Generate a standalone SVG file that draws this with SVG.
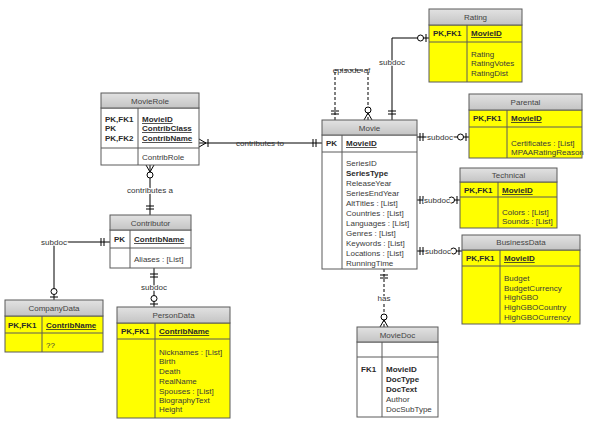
<svg xmlns="http://www.w3.org/2000/svg" width="595" height="422" viewBox="0 0 595 422">
<defs>
<linearGradient id="hg" x1="0" y1="0" x2="0" y2="1"><stop offset="0" stop-color="#e2e2e2"/><stop offset="1" stop-color="#c4c4c4"/></linearGradient>
<marker id="one" markerUnits="userSpaceOnUse" markerWidth="20" markerHeight="12" viewBox="-16 -6 20 12" refX="0" refY="0" orient="auto-start-reverse" overflow="visible"><path d="M-6,-4V4M-9,-4V4" stroke="#000" fill="none"/></marker>
<marker id="oneN" markerUnits="userSpaceOnUse" markerWidth="20" markerHeight="12" viewBox="-16 -6 20 12" refX="0" refY="0" orient="auto-start-reverse" overflow="visible"><path d="M-3,-4V4M-6,-4V4" stroke="#000" fill="none"/></marker>
<marker id="zeroone" markerUnits="userSpaceOnUse" markerWidth="20" markerHeight="12" viewBox="-16 -6 20 12" refX="0" refY="0" orient="auto-start-reverse" overflow="visible"><path d="M-3,-4V4" stroke="#000" fill="none"/><circle cx="-8.5" cy="0" r="3" fill="#fff" stroke="#000"/></marker>
<marker id="zeromany" markerUnits="userSpaceOnUse" markerWidth="20" markerHeight="12" viewBox="-16 -6 20 12" refX="0" refY="0" orient="auto-start-reverse" overflow="visible"><path d="M0,-4L-7,0L0,4" stroke="#000" fill="none"/><circle cx="-10" cy="0" r="3" fill="#fff" stroke="#000"/></marker>
<marker id="onemany" markerUnits="userSpaceOnUse" markerWidth="20" markerHeight="12" viewBox="-16 -6 20 12" refX="0" refY="0" orient="auto-start-reverse" overflow="visible"><path d="M0,-4L-7,0L0,4M-9,-4V4" stroke="#000" fill="none"/></marker>
</defs>
<style>
text{font-family:"Liberation Sans",Arial,sans-serif;font-size:8px;fill:#3a3a3a}
.hd{fill:url(#hg);stroke:#5a5a5a}
.y{fill:#ffff00;stroke:#5a5a5a}
.w{fill:#fff;stroke:#5a5a5a}
.ln{stroke:#5a5a5a;fill:none}
.t{text-anchor:middle;fill:#444}
.b{font-weight:bold;fill:#2a2a2a}
.u{text-decoration:underline}
.c{fill:none;stroke:#000;stroke-width:1}
.d{stroke-dasharray:3,2}
.lbl{text-anchor:middle;fill:#333}
.bg{paint-order:stroke;stroke:#fff;stroke-width:2px}
</style>

<g id="connectors">
<path class="c d" d="M335,120V70H368V120" marker-start="url(#one)" marker-end="url(#zeromany)"/>
<text class="lbl" x="351.5" y="73">episode-of</text>
<path class="c" d="M392,120V38H429" marker-start="url(#one)" marker-end="url(#zeroone)"/>
<text class="lbl bg" x="392" y="65">subdoc</text>
<path class="c" d="M199,143H322" marker-start="url(#onemany)" marker-end="url(#one)"/>
<text class="lbl" x="260" y="146">contributes to</text>
<path class="c" d="M150,165V215" marker-start="url(#zeromany)" marker-end="url(#one)"/>
<text class="lbl bg" x="150" y="193">contributes a</text>
<path class="c" d="M110,242H54V300" marker-start="url(#one)" marker-end="url(#zeroone)"/>
<text class="lbl bg" x="54" y="245">subdoc</text>
<path class="c" d="M154,268V307" marker-start="url(#one)" marker-end="url(#zeroone)"/>
<text class="lbl bg" x="154" y="290">subdoc</text>
<path class="c" d="M417,137H469" marker-start="url(#oneN)" marker-end="url(#zeroone)"/>
<text class="lbl bg" x="440" y="140">subdoc</text>
<path class="c" d="M417,200H460" marker-start="url(#oneN)" marker-end="url(#zeroone)"/>
<text class="lbl bg" x="437" y="203">subdoc</text>
<path class="c" d="M417,251H462" marker-start="url(#oneN)" marker-end="url(#zeroone)"/>
<text class="lbl bg" x="438" y="254">subdoc</text>
<path class="c d" d="M384,269V327" marker-start="url(#one)" marker-end="url(#zeromany)"/>
<text class="lbl bg" x="384" y="301">has</text>
</g>

<g id="Rating">
<rect class="y" x="429" y="25" width="93" height="57"/>
<rect class="hd" x="429" y="9" width="93" height="16"/>
<path class="ln" d="M429,42H522M467,25V82"/>
<text class="t" x="475.5" y="20">Rating</text>
<text class="b" x="433" y="36">PK,FK1</text>
<text class="b u" x="471" y="36">MovieID</text>
<text x="471" y="57">Rating</text>
<text x="471" y="66">RatingVotes</text>
<text x="471" y="76">RatingDist</text>
</g>

<g id="Parental">
<rect class="y" x="469" y="110" width="113" height="48"/>
<rect class="hd" x="469" y="94" width="113" height="16"/>
<path class="ln" d="M469,127H582M507,110V158"/>
<text class="t" x="525.5" y="105">Parental</text>
<text class="b" x="473" y="121">PK,FK1</text>
<text class="b u" x="511" y="121">MovieID</text>
<text x="511" y="146">Certificates : [List]</text>
<text x="511" y="155">MPAARatingReason</text>
</g>

<g id="Technical">
<rect class="y" x="460" y="182" width="97" height="46"/>
<rect class="hd" x="460" y="168" width="97" height="14"/>
<path class="ln" d="M460,197H557M498,182V228"/>
<text class="t" x="508.5" y="178">Technical</text>
<text class="b" x="464" y="193">PK,FK1</text>
<text class="b u" x="502" y="193">MovieID</text>
<text x="502" y="215">Colors : [List]</text>
<text x="502" y="224">Sounds : [List]</text>
</g>

<g id="BusinessData">
<rect class="y" x="462" y="250" width="118" height="74"/>
<rect class="hd" x="462" y="235" width="118" height="15"/>
<path class="ln" d="M462,266H580M500,250V324"/>
<text class="t" x="521" y="245">BusinessData</text>
<text class="b" x="466" y="261">PK,FK1</text>
<text class="b u" x="504" y="261">MovieID</text>
<text x="504" y="281">Budget</text>
<text x="504" y="291">BudgetCurrency</text>
<text x="504" y="300">HighGBO</text>
<text x="504" y="310">HighGBOCountry</text>
<text x="504" y="320">HighGBOCurrency</text>
</g>

<g id="Movie">
<rect class="w" x="322" y="135" width="95" height="134"/>
<rect class="hd" x="322" y="120" width="95" height="15"/>
<path class="ln" d="M322,152H417M342,135V269"/>
<text class="t" x="369.5" y="131">Movie</text>
<text class="b" x="326" y="146">PK</text>
<text class="b u" x="346" y="146">MovieID</text>
<text x="346" y="166">SeriesID</text>
<text class="b" x="346" y="176">SeriesType</text>
<text x="346" y="186">ReleaseYear</text>
<text x="346" y="196">SeriesEndYear</text>
<text x="346" y="206">AltTitles : [List]</text>
<text x="346" y="216">Countries : [List]</text>
<text x="346" y="226">Languages : [List]</text>
<text x="346" y="236">Genres : [List]</text>
<text x="346" y="246">Keywords : [List]</text>
<text x="346" y="256">Locations : [List]</text>
<text x="346" y="266">RunningTime</text>
</g>

<g id="MovieRole">
<rect class="w" x="101" y="108" width="98" height="57"/>
<rect class="hd" x="101" y="93" width="98" height="15"/>
<path class="ln" d="M101,148H199M138,108V165"/>
<text class="t" x="150" y="104">MovieRole</text>
<text class="b" x="105" y="122">PK,FK1</text>
<text class="b" x="105" y="131">PK</text>
<text class="b" x="105" y="141">PK,FK2</text>
<text class="b u" x="142" y="122">MovieID</text>
<text class="b u" x="142" y="131">ContribClass</text>
<text class="b u" x="142" y="141">ContribName</text>
<text x="142" y="160">ContribRole</text>
</g>

<g id="Contributor">
<rect class="w" x="110" y="230" width="81" height="38"/>
<rect class="hd" x="110" y="215" width="81" height="15"/>
<path class="ln" d="M110,248H191M130,230V268"/>
<text class="t" x="150.5" y="226">Contributor</text>
<text class="b" x="114" y="242">PK</text>
<text class="b u" x="134" y="242">ContribName</text>
<text x="134" y="262">Aliases : [List]</text>
</g>

<g id="CompanyData">
<rect class="y" x="5" y="316" width="98" height="36"/>
<rect class="hd" x="5" y="300" width="98" height="16"/>
<path class="ln" d="M5,333H103M42,316V352"/>
<text class="t" x="54" y="311">CompanyData</text>
<text class="b" x="8" y="328">PK,FK1</text>
<text class="b u" x="46" y="328">ContribName</text>
<text x="46" y="348">??</text>
</g>

<g id="PersonData">
<rect class="y" x="117" y="323" width="113" height="95"/>
<rect class="hd" x="117" y="307" width="113" height="16"/>
<path class="ln" d="M117,339H230M155,323V418"/>
<text class="t" x="173.5" y="318">PersonData</text>
<text class="b" x="121" y="334">PK,FK1</text>
<text class="b u" x="159" y="334">ContribName</text>
<text x="159" y="355">Nicknames : [List]</text>
<text x="159" y="364">Birth</text>
<text x="159" y="374">Death</text>
<text x="159" y="384">RealName</text>
<text x="159" y="394">Spouses : [List]</text>
<text x="159" y="403">BiographyText</text>
<text x="159" y="412">Height</text>
</g>

<g id="MovieDoc">
<rect class="w" x="357" y="342" width="81" height="75"/>
<rect class="hd" x="357" y="327" width="81" height="15"/>
<path class="ln" d="M357,357H438M382,342V417"/>
<text class="t" x="397.5" y="338">MovieDoc</text>
<text class="b" x="361" y="372">FK1</text>
<text class="b" x="386" y="372">MovieID</text>
<text class="b" x="386" y="382">DocType</text>
<text class="b" x="386" y="392">DocText</text>
<text x="386" y="402">Author</text>
<text x="386" y="412">DocSubType</text>
</g>
</svg>
